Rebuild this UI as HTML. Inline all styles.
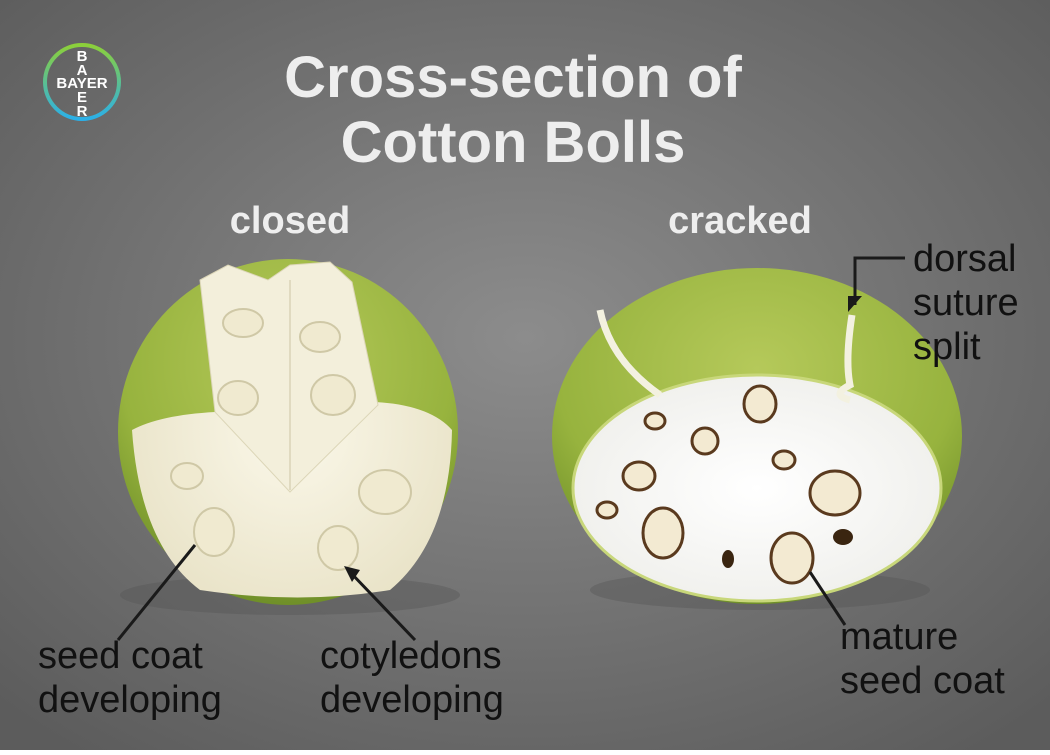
<!DOCTYPE html>
<html><head><style>
html,body{margin:0;padding:0}
body{width:1050px;height:750px;overflow:hidden;font-family:"Liberation Sans",sans-serif}
</style></head><body>
<svg width="1050" height="750" viewBox="0 0 1050 750" xmlns="http://www.w3.org/2000/svg" font-family="Liberation Sans, sans-serif">
<defs>
<radialGradient id="bg" cx="0.5" cy="0.45" r="0.7">
<stop offset="0" stop-color="#8c8c8c"/><stop offset="1" stop-color="#5c5c5c"/>
</radialGradient>
<radialGradient id="gr" cx="0.5" cy="0.3" r="0.7">
<stop offset="0" stop-color="#b5c95a"/><stop offset="0.7" stop-color="#97b33e"/><stop offset="1" stop-color="#6f8f28"/>
</radialGradient>
<radialGradient id="cr" cx="0.5" cy="0.5" r="0.6">
<stop offset="0" stop-color="#fbf8ea"/><stop offset="1" stop-color="#e8e2c6"/>
</radialGradient>
<radialGradient id="wh" cx="0.5" cy="0.5" r="0.6">
<stop offset="0" stop-color="#ffffff"/><stop offset="1" stop-color="#eeeeea"/>
</radialGradient>
<linearGradient id="lg" x1="0" y1="0" x2="0" y2="1"><stop offset="0" stop-color="#8cd03a"/><stop offset="1" stop-color="#2bb0e8"/></linearGradient>
</defs>
<rect width="1050" height="750" fill="url(#bg)"/>
<!-- logo -->
<circle cx="82" cy="82" r="37" fill="none" stroke="url(#lg)" stroke-width="4"/>
<g fill="#fff" font-weight="bold" font-size="15" text-anchor="middle">
<text x="82" y="88">BAYER</text>
<text x="82" y="61">B</text><text x="82" y="75">A</text>
<text x="82" y="102">E</text><text x="82" y="116">R</text>
</g>
<g fill="#eeeeee" font-weight="bold" text-anchor="middle">
<text x="513" y="97" font-size="58">Cross-section of</text>
<text x="513" y="162" font-size="58">Cotton Bolls</text>
<text x="290" y="233" font-size="38">closed</text>
<text x="740" y="233" font-size="38">cracked</text>
</g>
<!-- left boll -->
<ellipse cx="290" cy="595" rx="170" ry="20" fill="#555" opacity="0.4"/>
<ellipse cx="288" cy="432" rx="170" ry="173" fill="url(#gr)"/>
<path d="M132 430 Q160 415 215 412 L200 280 L228 265 L268 280 L290 265 L330 262 L352 282 L375 402 Q430 405 452 430 Q450 540 390 590 Q300 605 200 590 Q140 545 132 430Z" fill="url(#cr)"/>
<path d="M200 280 L228 265 L268 280 L290 265 L330 262 L352 282 L378 405 L290 492 L215 412Z" fill="#f3efdb" stroke="#dcd6b8"/>
<line x1="290" y1="280" x2="290" y2="490" stroke="#e0dac0" stroke-width="2"/>
<g fill="#f0ead0" stroke="#cfc8a6" stroke-width="2">
<ellipse cx="243" cy="323" rx="20" ry="14"/><ellipse cx="320" cy="337" rx="20" ry="15"/>
<ellipse cx="238" cy="398" rx="20" ry="17"/><ellipse cx="333" cy="395" rx="22" ry="20"/>
<ellipse cx="187" cy="476" rx="16" ry="13"/><ellipse cx="385" cy="492" rx="26" ry="22"/>
<ellipse cx="214" cy="532" rx="20" ry="24"/><ellipse cx="338" cy="548" rx="20" ry="22"/>
</g>
<!-- right boll -->
<ellipse cx="760" cy="590" rx="170" ry="20" fill="#555" opacity="0.4"/>
<ellipse cx="757" cy="436" rx="205" ry="168" fill="url(#gr)"/>
<ellipse cx="757" cy="488" rx="184" ry="113" fill="url(#wh)" stroke="#c8d77a" stroke-width="3"/>
<path d="M600 310 Q610 360 660 395 M852 315 Q845 360 850 385 Q830 395 850 400" stroke="#f3f1e0" stroke-width="7" fill="none"/>
<g fill="#f3ead2" stroke="#5a3a1e" stroke-width="3">
<ellipse cx="655" cy="421" rx="10" ry="8"/><ellipse cx="760" cy="404" rx="16" ry="18"/>
<ellipse cx="705" cy="441" rx="13" ry="13"/><ellipse cx="784" cy="460" rx="11" ry="9"/>
<ellipse cx="639" cy="476" rx="16" ry="14"/><ellipse cx="835" cy="493" rx="25" ry="22"/>
<ellipse cx="607" cy="510" rx="10" ry="8"/><ellipse cx="663" cy="533" rx="20" ry="25"/>
<ellipse cx="792" cy="558" rx="21" ry="25"/>
</g>
<ellipse cx="843" cy="537" rx="10" ry="8" fill="#3a2510"/>
<ellipse cx="728" cy="559" rx="6" ry="9" fill="#3a2510"/>
<!-- leaders -->
<g stroke="#1a1a1a" stroke-width="3" fill="none">
<path d="M195 545 L118 640"/>
<path d="M350 572 L415 640"/>
<path d="M810 572 L845 625"/>
<path d="M905 258 L855 258 L855 305"/>
</g>
<path d="M344 566 L360 570 L352 582Z M848 312 L862 296 L848 296Z" fill="#1a1a1a"/>
<g fill="#111" font-size="38">
<text x="38" y="668">seed coat</text><text x="38" y="712">developing</text>
<text x="320" y="668">cotyledons</text><text x="320" y="712">developing</text>
<text x="840" y="649">mature</text><text x="840" y="693">seed coat</text>
<text x="913" y="271">dorsal</text><text x="913" y="315">suture</text><text x="913" y="359">split</text>
</g>
</svg>
</body></html>
